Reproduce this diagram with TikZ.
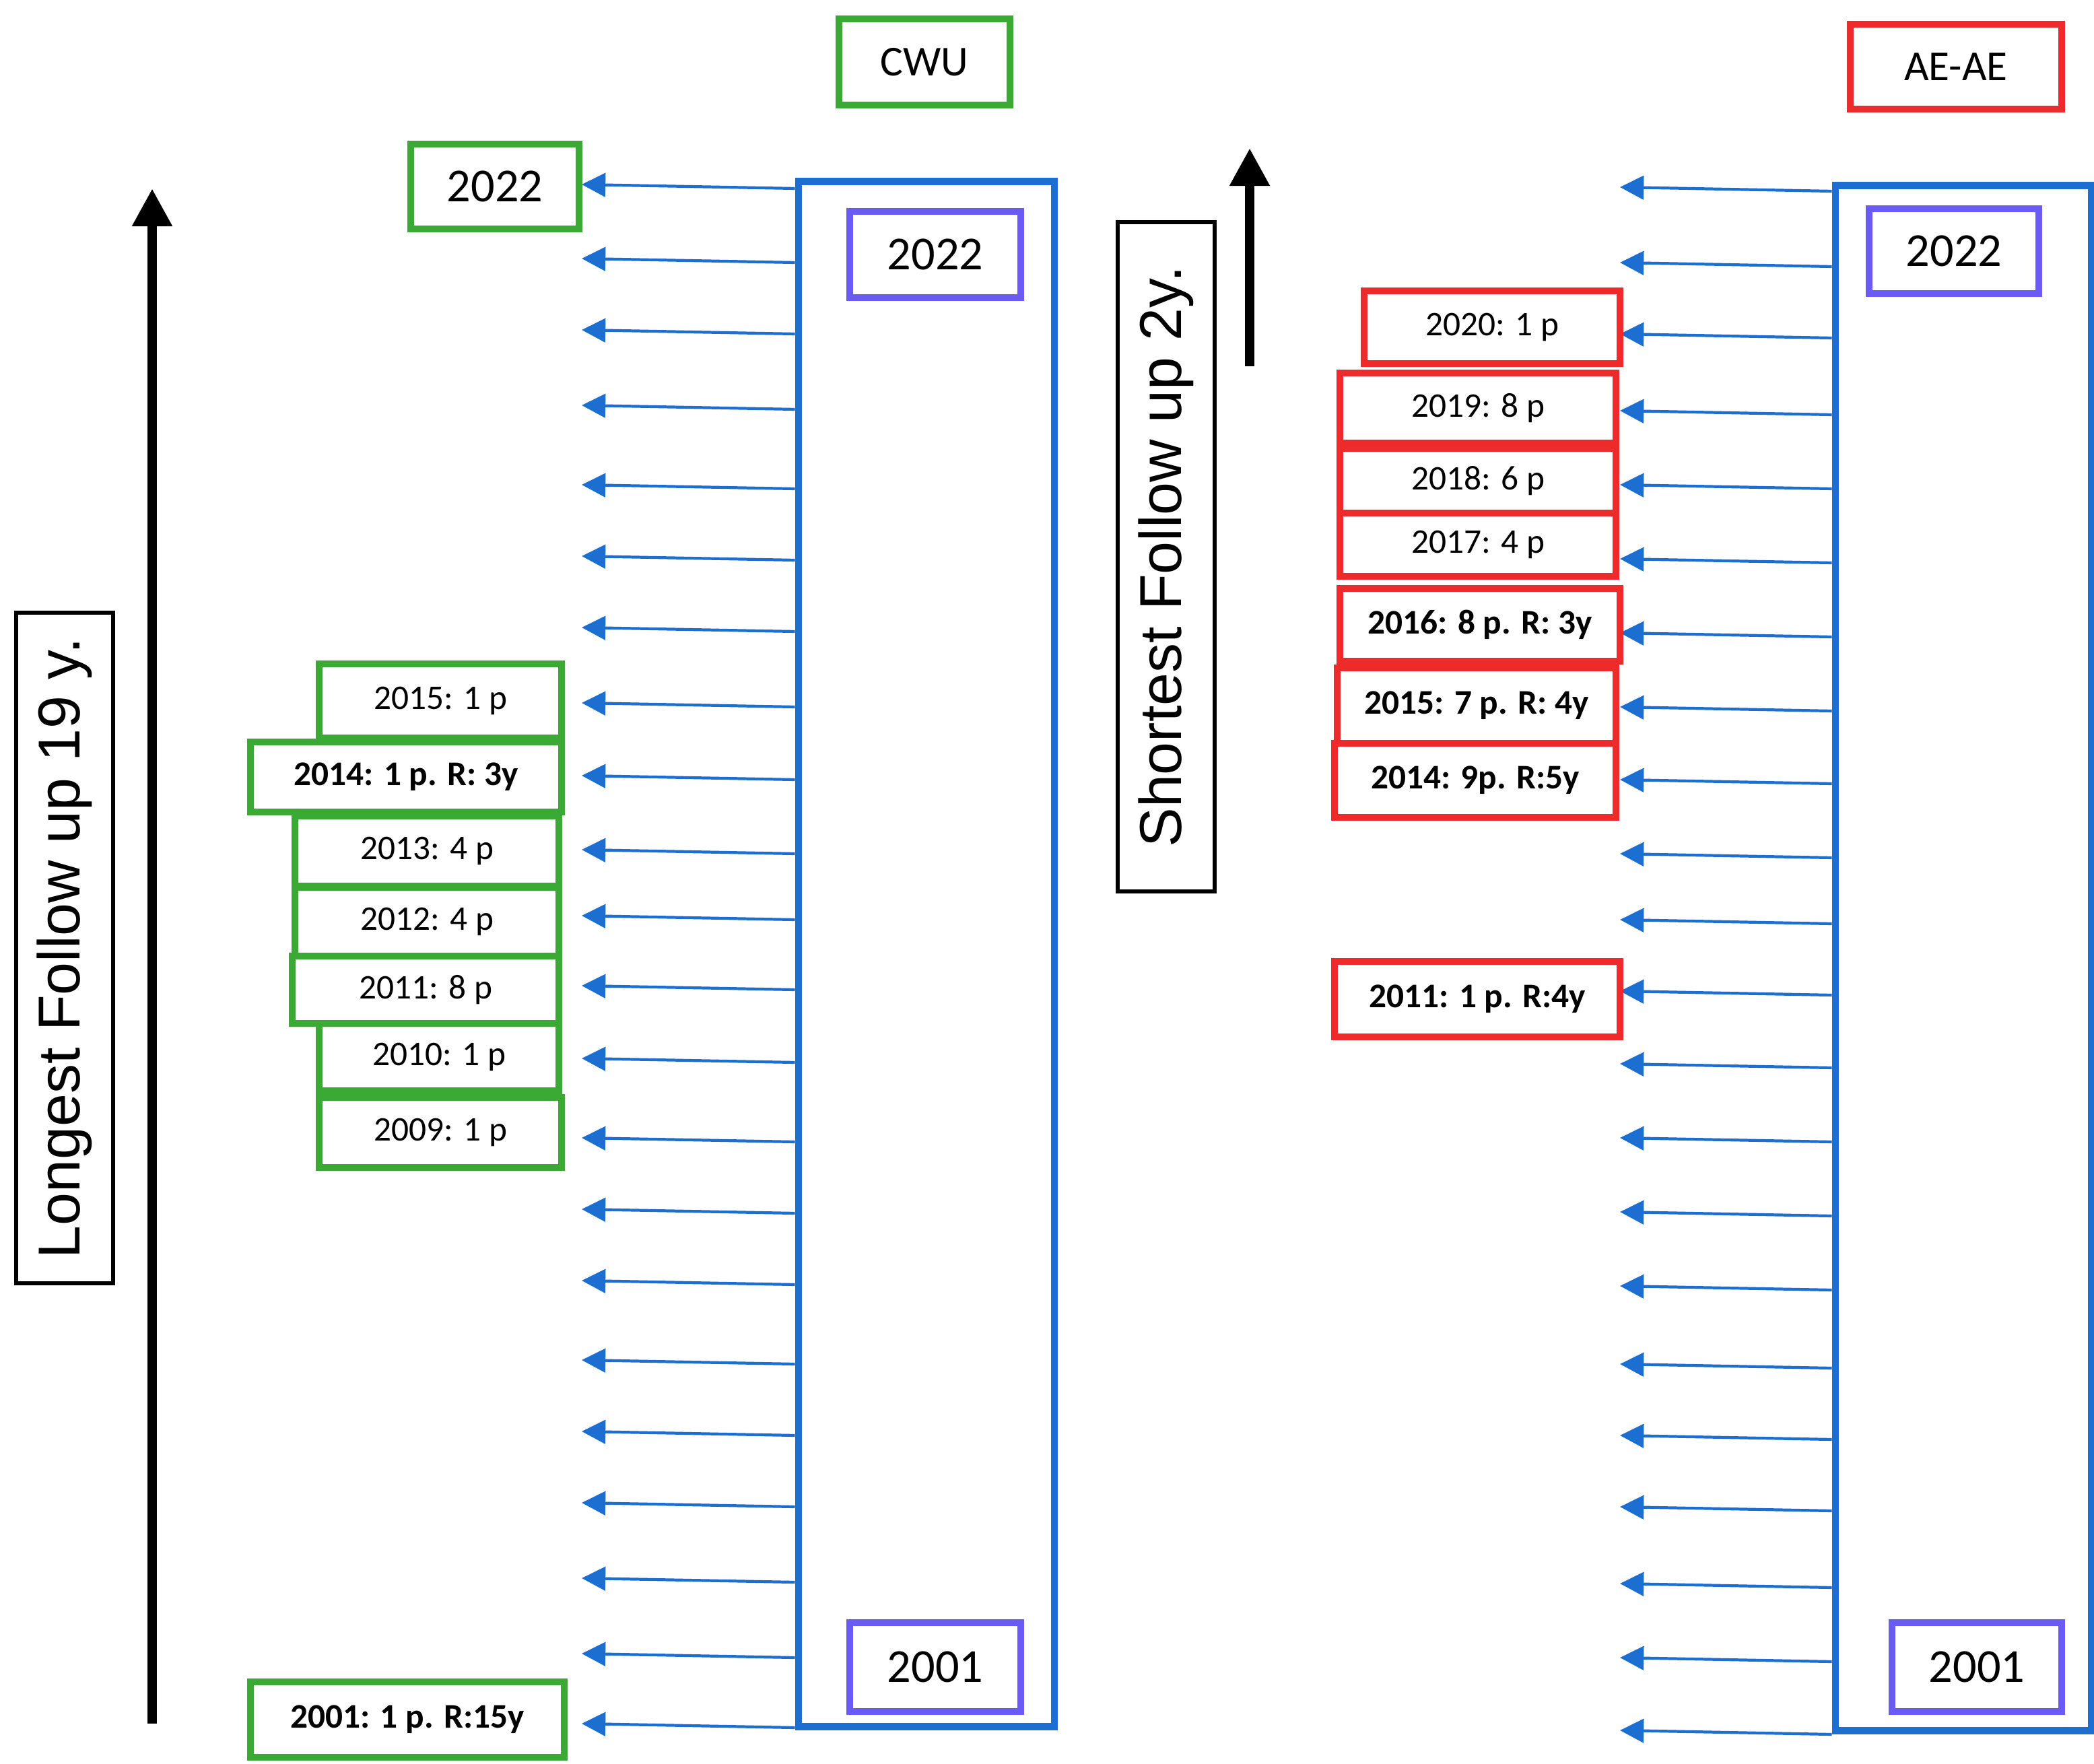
\documentclass[tikz,border=0pt]{standalone}
\usepackage{fontspec}
\setmainfont{Carlito}
\newfontfamily\lsans{Liberation Sans}
\usetikzlibrary{arrows.meta}
\definecolor{gr}{HTML}{3AAA35}
\definecolor{rd}{HTML}{EE2A2A}
\definecolor{bl}{HTML}{1C6FD0}
\definecolor{pu}{HTML}{6B5BF5}
\begin{document}
\begin{tikzpicture}[x=0.01cm,y=-0.01cm,
 box/.style={draw,line width=1.5pt,inner sep=0pt,font=\fontsize{7.3}{9}\selectfont},
 gbox/.style={box,draw=gr},
 rbox/.style={box,draw=rd},
 pbox/.style={box,draw=pu,font=\fontsize{10}{12}\selectfont},
 arr/.style={bl,line width=0.6pt,-{Triangle[length=5pt,width=5pt]}},
 lab/.style={draw,line width=0.8pt,inner sep=0pt,font=\lsans\fontsize{12.5}{14}\selectfont}]
\useasboundingbox (0,0) rectangle (1555,1310);
\def\bx#1#2#3#4#5#6#7{\node[#1,minimum width={(#4-#3)*0.01cm},minimum height={(#6-#5)*0.01cm}] (#2) at ({(#3+#4)/2},{(#5+#6)/2}) {#7};}
% left
\bx{gbox,font=\fontsize{9}{10}\selectfont}{cwu}{623}{750}{14}{78}{CWU}
\node[draw=bl,line width=1.5pt,minimum width=1.9cm,minimum height=11.47cm,inner sep=0pt] (L) at (688,708.5) {};
\bx{pbox}{l22}{631}{758}{157}{221}{2022}
\bx{pbox}{l01}{631}{758}{1205}{1271}{2001}
\foreach \y [count=\i] in {137,192,245,301,360,413,466,522,576,631,680,732,786,845,898,951,1010,1063,1116,1172,1228,1280}{
 \coordinate (la\i) at (432,\y);
 \draw[arr] (L.west|-{0,\y+3}) -- (la\i);}
\bx{gbox,font=\fontsize{10}{12}\selectfont}{g22}{305}{430}{107}{170}{2022}
\bx{gbox}{g15}{237}{417}{493}{548}{2015: 1 p}
\bx{gbox}{g14}{186}{417}{551}{603}{\textbf{2014: 1 p. R: 3y}}
\bx{gbox}{g13}{219}{415}{606}{658}{2013: 4 p}
\bx{gbox}{g12}{219}{415}{659}{710}{2012: 4 p}
\bx{gbox}{g11}{217}{415}{710}{760}{2011: 8 p}
\bx{gbox}{g10}{237}{415}{760}{810}{2010: 1 p}
\bx{gbox}{g09}{237}{417}{815}{867}{2009: 1 p}
\bx{gbox}{g01}{186}{419}{1249}{1305}{\textbf{2001: 1 p. R:15y}}
\coordinate (ba) at (113,1280); \coordinate (bb) at (113,140);
\draw[line width=2pt,-{Triangle[length=8pt,width=8pt]}] (ba) -- (bb);
\node[lab,minimum width=4.98cm,minimum height=0.72cm,rotate=90] (t1) at (48,704) {Longest Follow up 19 y.};
% middle
\node[lab,minimum width=4.97cm,minimum height=0.72cm,rotate=90] (t2) at (866,413.5) {Shortest Follow up 2y.};
\coordinate (ca) at (928,272); \coordinate (cb) at (928,110);
\draw[line width=2pt,-{Triangle[length=8pt,width=8pt]}] (ca) -- (cb);
% right
\bx{rbox,font=\fontsize{9}{10}\selectfont}{ae}{1374}{1531}{18}{81}{AE-AE}
\node[draw=bl,line width=1.5pt,minimum width=1.9cm,minimum height=11.47cm,inner sep=0pt] (R) at (1458,711.5) {};
\bx{pbox}{r22}{1388}{1514}{155}{218}{2022}
\bx{pbox}{r01}{1405}{1531}{1205}{1271}{2001}
\foreach \y [count=\i] in {139,195,248,305,360,415,470,525,579,634,683,736,790,845,900,955,1013,1066,1119,1176,1231,1285}{
 \coordinate (ra\i) at (1203,\y);
 \draw[arr] (R.west|-{0,\y+3}) -- (ra\i);}
\bx{rbox}{r20}{1013}{1203}{216}{270}{2020: 1 p}
\bx{rbox}{r19}{995}{1200}{277}{329}{2019: 8 p}
\bx{rbox}{r18}{995}{1200}{333}{381}{2018: 6 p}
\bx{rbox}{r17}{995}{1200}{381}{428}{2017: 4 p}
\bx{rbox}{r16}{995}{1203}{437}{491}{\textbf{2016: 8 p. R: 3y}}
\bx{rbox}{r15}{993}{1200}{496}{552}{\textbf{2015: 7 p. R: 4y}}
\bx{rbox}{r14}{991}{1200}{552}{607}{\textbf{2014: 9p. R:5y}}
\bx{rbox}{r11}{991}{1203}{714}{770}{\textbf{2011: 1 p. R:4y}}
\end{tikzpicture}
\end{document}
